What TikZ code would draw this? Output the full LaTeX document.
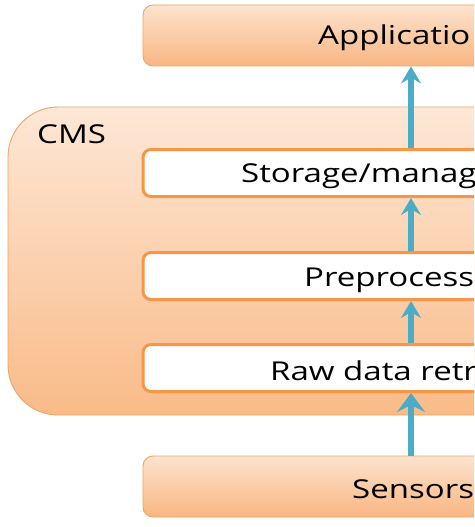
\documentclass[tikz,border=0pt]{standalone}
\usepackage{fontspec}
\newfontfamily\labfont[FakeStretch=1.27]{Open Sans}
\usetikzlibrary{arrows.meta}
\definecolor{cmsTop}{HTML}{FDE7D6}
\definecolor{cmsBot}{HTML}{F9BB88}
\definecolor{endTop}{HTML}{FDE3CE}
\definecolor{endBot}{HTML}{F9B682}
\definecolor{edgeLight}{HTML}{F0A464}
\definecolor{edgeDark}{HTML}{F79646}
\definecolor{arrowBlue}{HTML}{4BACC6}
\begin{document}
\begin{tikzpicture}[x=1pt,y=-1pt,
  endbox/.style={rectangle, draw=edgeLight, line width=0.9pt, top color=endTop, bottom color=endBot,
    rounded corners=10pt, minimum width=536pt, minimum height=61pt, inner sep=0pt},
  cmsbox/.style={rectangle, draw=edgeLight, line width=0.9pt, top color=cmsTop, bottom color=cmsBot,
    rounded corners=50pt, minimum width=806pt, minimum height=308pt, inner sep=0pt},
  stagebox/.style={rectangle, draw=edgeDark, line width=3pt, fill=white,
    rounded corners=8pt, minimum width=536pt, minimum height=47pt, inner sep=0pt},
  lab/.style={anchor=base west, inner sep=0pt, font=\labfont\fontsize{26}{31}\selectfont, text=black},
  flow/.style={draw=arrowBlue, line width=5.5pt, -{Stealth[length=17pt, width=20pt, inset=6pt]}},
  flowbig/.style={draw=arrowBlue, line width=6pt, -{Stealth[length=19pt, width=28pt, inset=7pt]}}
]
\useasboundingbox (0,0) rectangle (474,527);
\clip (0,0) rectangle (474,527);
\fill[white] (0,0) rectangle (474,527);

\node[cmsbox] (cms) at (411,261) {};
\node[endbox] (app) at (411,35.5) {};
\node[endbox] (sens) at (411,486.5) {};
\node[stagebox] (stor) at (411,173) {};
\node[stagebox] (prep) at (411,276) {};
\node[stagebox] (raw) at (411,368) {};

\node[lab] (tcms) at (37,143) {CMS};
\node[lab] (tapp) at (318,44.5) {Applicatio};
\node[lab] (tstor) at (241,182.5) {Storage/manag};
\node[lab] (tprep) at (304,286) {Preprocess};
\node[lab] (traw) at (270,380) {Raw data retr};
\node[lab] (tsens) at (352,498) {Sensors};

\draw[flow] (stor.north) -- (app.south);
\draw[flow] (prep.north) -- (stor.south);
\draw[flow] (raw.north) -- (prep.south);
\draw[flowbig] (sens.north) -- (raw.south);
\end{tikzpicture}
\end{document}
